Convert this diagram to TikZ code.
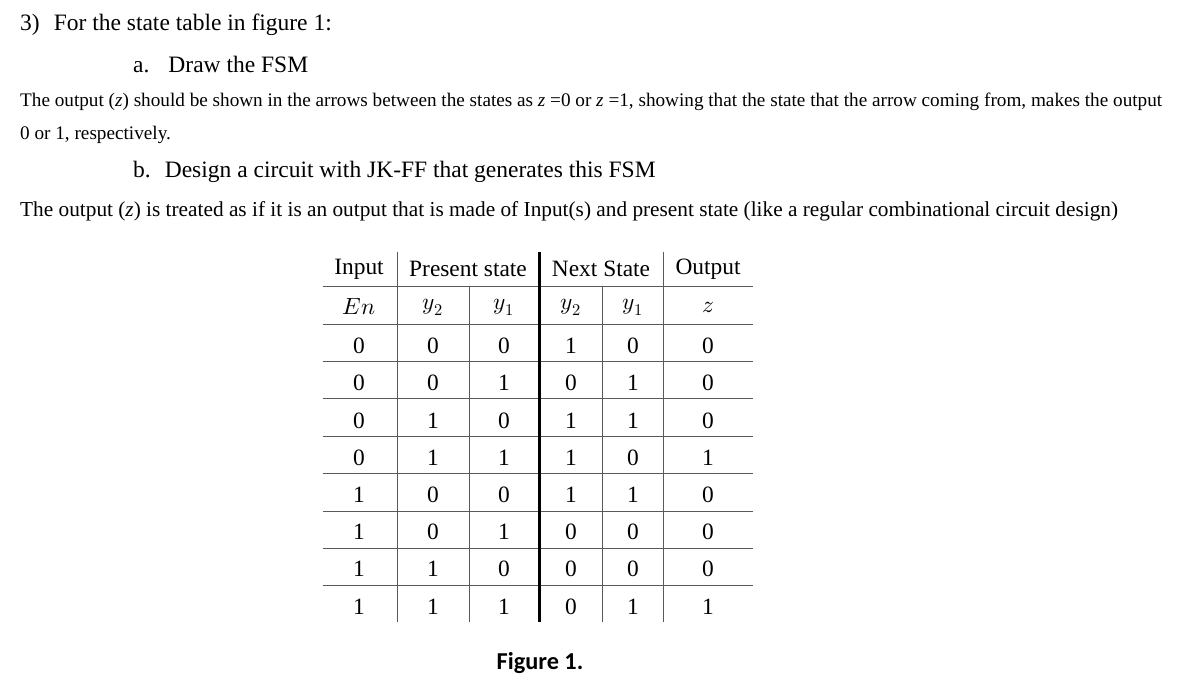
\documentclass[tikz,border=0pt]{standalone}
\usepackage{fontspec}
\setmainfont{Liberation Serif}
\newfontfamily\figfont{Carlito}
\usepackage{unicode-math}
\begin{document}
\begin{tikzpicture}[x=1pt,y=-1pt,
  txt/.style={anchor=west,inner sep=0pt},
  cell/.style={inner sep=0pt,font=\fontsize{23.4}{28}\selectfont},
  grid/.style={draw=gray!70!black,line width=0.9pt}]
\useasboundingbox[fill=white] (0,0) rectangle (1198,696);
\node[txt,font=\fontsize{23.5}{28}\selectfont] (l1) at (20,25) {3)\hspace{14pt}For the state table in figure 1:};
\node[txt,font=\fontsize{23.5}{28}\selectfont] (l2) at (133,65) {a.\hspace{19pt}Draw the FSM};
\node[txt,font=\fontsize{19.2}{23}\selectfont] (l3) at (20,102) {The output (\textit{z}) should be shown in the arrows between the states as \textit{z} =0 or \textit{z} =1, showing that the state that the arrow coming from, makes the output};
\node[txt,font=\fontsize{19.2}{23}\selectfont] (l4) at (20,135) {0 or 1, respectively.};
\node[txt,font=\fontsize{23.5}{28}\selectfont] (l5) at (133,172) {b.\hspace{14pt}Design a circuit with JK-FF that generates this FSM};
\node[txt,font=\fontsize{21.3}{25}\selectfont] (l6) at (20,211) {The output (\textit{z}) is treated as if it is an output that is made of Input(s) and present state (like a regular combinational circuit design)};
% table lines
\foreach \y in {286,324,361,398,436,473,511,548,585} \draw[grid] (323,\y) -- (753,\y);
\foreach \x in {397,663} \draw[grid] (\x,252) -- (\x,622);
\foreach \x in {469,602} \draw[grid] (\x,286) -- (\x,622);
\draw[line width=3pt] (539,252) -- (539,622);
% header
\node[cell] (h1) at (359,269) {Input};
\node[cell] (h2) at (468,269) {Present state};
\node[cell] (h3) at (601,269) {Next State};
\node[cell] (h4) at (708,269) {Output};
\node[cell] (s1) at (359,307) {$En$};
\node[cell] (s2) at (433,307) {$y_2$};
\node[cell] (s3) at (504,307) {$y_1$};
\node[cell] (s4) at (571,307) {$y_2$};
\node[cell] (s5) at (633,307) {$y_1$};
\node[cell] (s6) at (708,307) {$z$};
\foreach \r/\a/\b/\c/\d/\e/\f in {0/0/0/0/1/0/0,1/0/0/1/0/1/0,2/0/1/0/1/1/0,3/0/1/1/1/0/1,4/1/0/0/1/1/0,5/1/0/1/0/0/0,6/1/1/0/0/0/0,7/1/1/1/0/1/1}{
  \pgfmathsetmacro\yy{346+37.2*\r}
  \node[cell] (c\r a) at (359,\yy) {\a};
  \node[cell] (c\r b) at (433,\yy) {\b};
  \node[cell] (c\r c) at (504,\yy) {\c};
  \node[cell] (c\r d) at (571,\yy) {\d};
  \node[cell] (c\r e) at (633,\yy) {\e};
  \node[cell] (c\r f) at (708,\yy) {\f};
}
\node[inner sep=0pt,font=\figfont\bfseries\fontsize{24.3}{28}\selectfont] (fig) at (540,663) {Figure 1.};
\end{tikzpicture}
\end{document}
